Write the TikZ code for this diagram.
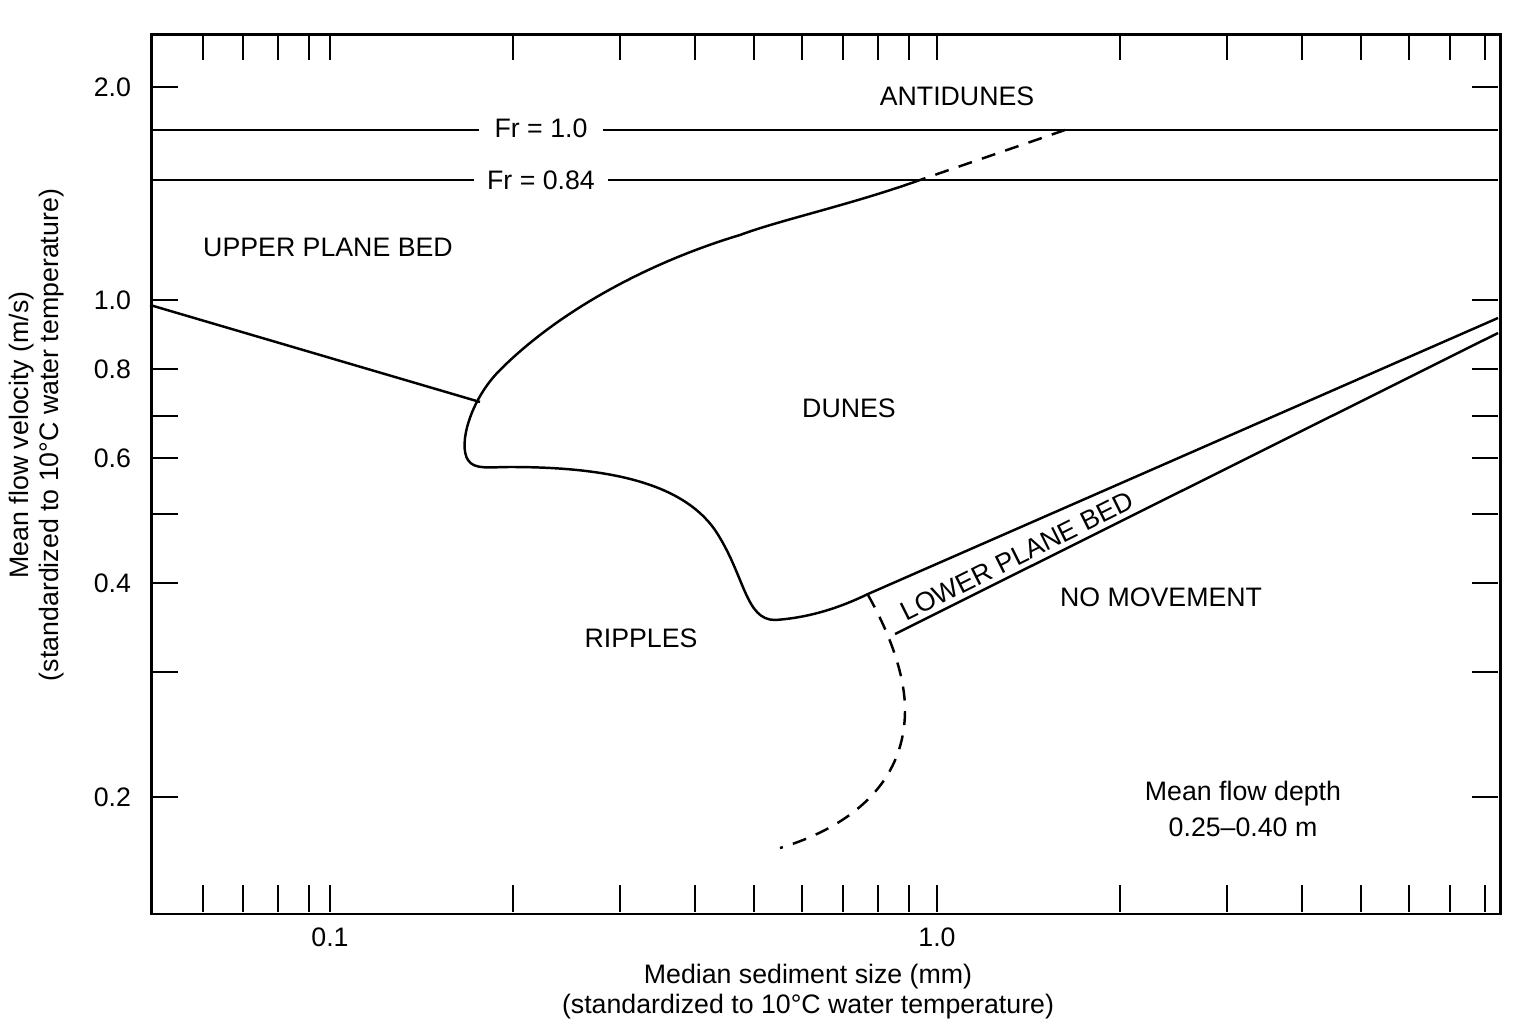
\documentclass[tikz,border=0pt]{standalone}
\usepackage{fontspec}
\setmainfont{Liberation Sans}
\begin{document}
\begin{tikzpicture}[x=0.01cm,y=-0.01cm,line width=0.6pt,
  lbl/.style={inner sep=0pt,font=\fontsize{7.6}{9}\selectfont},
  bnd/.style={line width=0.7pt},
  dsh/.style={dash pattern=on 4pt off 3pt}]
\useasboundingbox (0,0) rectangle (1516,1031);
\node[draw,line width=0.8pt,minimum width=13.48cm,minimum height=8.79cm,inner sep=0pt,anchor=north west] (frame) at (150,33) {};
% x ticks
\foreach \x in {203,243,278,309,330,513,620,695,754,802,843,878,909,937,1120,1227,1302,1361,1409,1450,1485}{
  \draw (\x,912) -- (\x,885); \draw (\x,33) -- (\x,60);}
% y ticks
\foreach \y in {87,300,369,416,458,514,583,672,797}{
  \draw (150,\y) -- (178,\y); \draw (1498,\y) -- (1472,\y);}
\foreach \v/\y in {2.0/87,1.0/300,0.8/369,0.6/458,0.4/583,0.2/797}{
  \node[lbl,anchor=east] (yl\y) at (132,\y) {\v};}
\node[lbl] (x01) at (330,937) {0.1};
\node[lbl] (x10) at (937,937) {1.0};
\node[lbl,align=center] (xt) at (808,992) {Median sediment size (mm)\\[-0.5pt](standardized to 10°C water temperature)};
\node[lbl,align=center,rotate=90] (yt) at (37,435) {Mean flow velocity (m/s)\\[-0.5pt](standardized to 10°C water temperature)};
% Froude lines
\node[lbl,inner xsep=0.15cm] (fr1) at (541,128) {Fr = 1.0};
\node[lbl,inner xsep=0.12cm] (fr2) at (541,180) {Fr = 0.84};
\draw (150,130) -- (fr1.west |- 0,130); \draw (fr1.east |- 0,130) -- (1498,130);
\draw (150,180) -- (fr2.west |- 0,180); \draw (fr2.east |- 0,180) -- (1498,180);
% boundaries
\draw[bnd] (150,305) -- (480,402);
\draw[bnd,dsh] (1065,130) -- (920,180);
\draw[bnd] (920,180) .. controls (850,205) and (780,220) .. (740,235)
  .. controls (650,262) and (560,310) .. (500,370)
  .. controls (470,400) and (458,445) .. (468,460)
  .. controls (474,470) and (490,467) .. (510,467)
  .. controls (600,467) and (680,480) .. (715,530)
  .. controls (745,575) and (745,620) .. (775,620)
  .. controls (805,618) and (835,610) .. (868,594) -- (1498,318);
\draw[bnd] (895,634) -- (1498,333);
\draw[bnd,dsh] (868,595) .. controls (885,625) and (905,670) .. (905,710)
  .. controls (905,790) and (840,830) .. (780,848);
% region labels
\node[lbl] (anti) at (957,96) {ANTIDUNES};
\node[lbl] (upb) at (328,247) {UPPER PLANE BED};
\node[lbl] (dunes) at (849,408) {DUNES};
\node[lbl] (rip) at (641,638) {RIPPLES};
\node[lbl] (nom) at (1161,597) {NO MOVEMENT};
\node[lbl,rotate=26.5] (lpb) at (1017,556) {LOWER PLANE BED};
\node[lbl,align=center] (depth) at (1243,809) {Mean flow depth\\[1pt]0.25–0.40 m};
\end{tikzpicture}
\end{document}
